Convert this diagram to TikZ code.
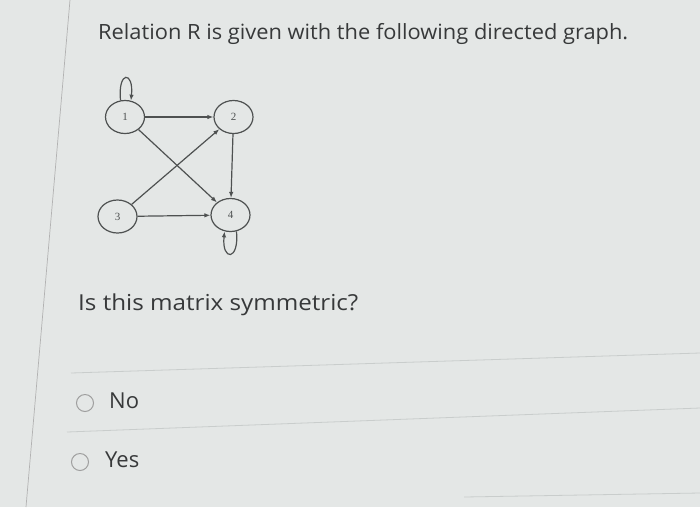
\documentclass[tikz,border=0pt]{standalone}
\usepackage{fontspec}
\setmainfont{Open Sans}
\newfontfamily\lserif{Liberation Serif}
\usetikzlibrary{arrows.meta,shapes.geometric}
\definecolor{bg}{HTML}{E4E7E6}
\definecolor{txt}{HTML}{37393A}
\definecolor{sep}{HTML}{C9CDCC}
\definecolor{edge}{HTML}{4E5151}
\tikzset{
  qtext/.style={anchor=base west, inner sep=0pt, text=txt, font=\fontsize{21}{24}\selectfont},
  vtx/.style={ellipse, draw=edge, line width=1.2pt, minimum width=39pt, minimum height=33pt, inner sep=0pt, font=\lserif\fontsize{11}{13}\selectfont, text=edge},
  arc/.style={draw=edge, line width=1.2pt, -{Latex[length=6pt,width=4.5pt]}},
  radio/.style={circle, draw=gray!75, line width=1pt, minimum size=17pt, inner sep=0pt},
  sepline/.style={draw=sep, line width=0.8pt}
}
\begin{document}
\begin{tikzpicture}[x=1pt,y=-1pt]
\fill[bg] (0,0) rectangle (700,507);
\useasboundingbox (0,0) rectangle (700,507);
% left border of the page
\coordinate (lt) at (70,0);
\coordinate (lb) at (26,507);
\draw[draw=gray!60, line width=0.7pt] (lt) -- (lb);
% separators
\coordinate (s1a) at (71,373); \coordinate (s1b) at (700,353);
\coordinate (s2a) at (67,432); \coordinate (s2b) at (700,408);
\coordinate (s3a) at (464,497); \coordinate (s3b) at (700,493);
\draw[sepline] (s1a) -- (s1b);
\draw[sepline] (s2a) -- (s2b);
\draw[sepline] (s3a) -- (s3b);
% texts
\node[qtext] (title) at (98,39) {\scalebox{1.04}[1]{Relation R is given with the following directed graph.}};
\node[qtext, font=\fontsize{22}{25}\selectfont] (q) at (78,310) {\scalebox{1.1}[1]{Is this matrix symmetric?}};
% graph
\node[vtx] (n1) at (125,117) {1};
\node[vtx] (n2) at (233.5,117) {2};
\node[vtx] (n3) at (117.5,216.5) {3};
\node[vtx] (n4) at (230.5,215) {4};
\draw[arc] (n1) -- (n2);
\draw[arc] (n1) -- (n4);
\draw[arc] (n3) -- (n2);
\draw[arc] (n3) -- (n4);
\draw[arc] (n2) -- (n4);
\draw[arc] (n1.105) .. controls +(-3,-30) and +(3,-30) .. (n1.70);
\draw[arc] (n4.-70) .. controls +(3,30) and +(-3,30) .. (n4.-110);
% answers
\node[radio] (r1) at (85,403) {};
\node[radio] (r2) at (80,462) {};
\node[qtext, font=\fontsize{22}{25}\selectfont] (no) at (109,408) {No};
\node[qtext, font=\fontsize{22}{25}\selectfont] (yes) at (105,467) {Yes};
\end{tikzpicture}
\end{document}
